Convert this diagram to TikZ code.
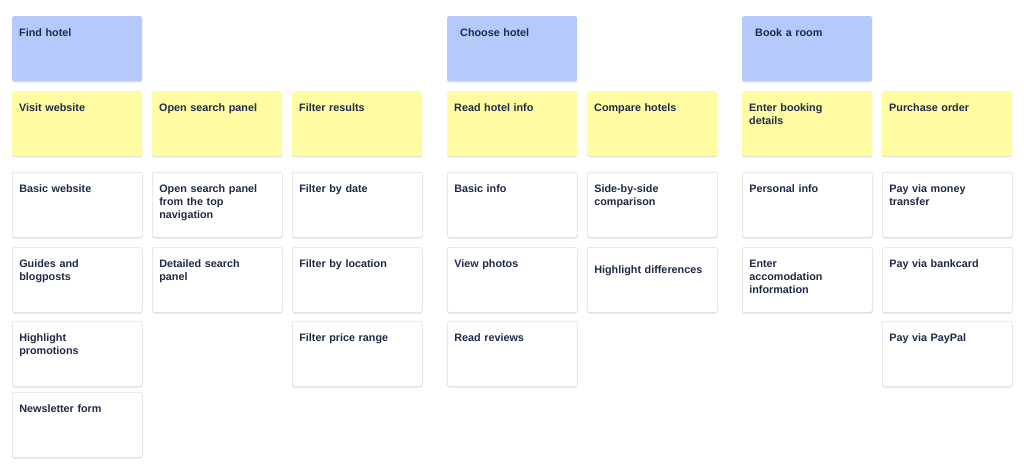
\documentclass[tikz,border=0pt]{standalone}
\usepackage{fontspec}
\setmainfont{Liberation Sans}
\usetikzlibrary{shadows}
\definecolor{stepblue}{HTML}{B5CAFA}
\definecolor{noteyellow}{HTML}{FFFCA3}
\definecolor{inkblue}{HTML}{1F2A48}
\begin{document}
\begin{tikzpicture}[x=1pt,y=-1pt,
  card/.style={rectangle, rounded corners=1.5pt, anchor=north west,
    minimum width=130pt, inner xsep=7pt, inner ysep=4pt, text width=116pt,
    align=left, text height=16pt, text depth=41pt, text=inkblue,
    font=\fontsize{10.8}{13}\selectfont\bfseries,
    drop shadow={shadow xshift=0pt, shadow yshift=-1.2pt, opacity=0.3, fill=black!40}},
  goal/.style={card, fill=stepblue},
  task/.style={card, fill=noteyellow},
  idea/.style={card, fill=white, draw=black!12, line width=0.6pt},
  indent/.style={inner xsep=13pt, text width=104pt},
  low/.style={text height=22pt, text depth=35pt}]
\useasboundingbox (0,0) rectangle (1024,473);

% goals
\node[goal] (find) at (12,16) {Find hotel};
\node[goal,indent] (choose) at (447,16) {Choose hotel};
\node[goal,indent] (book) at (742,16) {Book a room};

% tasks
\node[task] (visit) at (12,91) {Visit website};
\node[task] (search) at (152,91) {Open search panel};
\node[task] (filter) at (292,91) {Filter results};
\node[task] (read) at (447,91) {Read hotel info};
\node[task] (compare) at (587,91) {Compare hotels};
\node[task] (enter) at (742,91) {Enter booking\\details};
\node[task] (purchase) at (882,91) {Purchase order};

% stories
\node[idea] (basicweb) at (12,172) {Basic website};
\node[idea] (guides) at (12,247) {Guides and\\blogposts};
\node[idea] (promos) at (12,321) {Highlight\\promotions};
\node[idea] (newsletter) at (12,392) {Newsletter form};

\node[idea] (topnav) at (152,172) {Open search panel\\from the top\\navigation};
\node[idea] (detailed) at (152,247) {Detailed search\\panel};

\node[idea] (bydate) at (292,172) {Filter by date};
\node[idea] (byloc) at (292,247) {Filter by location};
\node[idea] (byprice) at (292,321) {Filter price range};

\node[idea] (basicinfo) at (447,172) {Basic info};
\node[idea] (photos) at (447,247) {View photos};
\node[idea] (reviews) at (447,321) {Read reviews};

\node[idea] (sidebyside) at (587,172) {Side-by-side\\comparison};
\node[idea,low] (diffs) at (587,247) {Highlight differences};

\node[idea] (personal) at (742,172) {Personal info};
\node[idea] (accom) at (742,247) {Enter\\accomodation\\information};

\node[idea] (transfer) at (882,172) {Pay via money\\transfer};
\node[idea] (bankcard) at (882,247) {Pay via bankcard};
\node[idea] (paypal) at (882,321) {Pay via PayPal};

\end{tikzpicture}
\end{document}
